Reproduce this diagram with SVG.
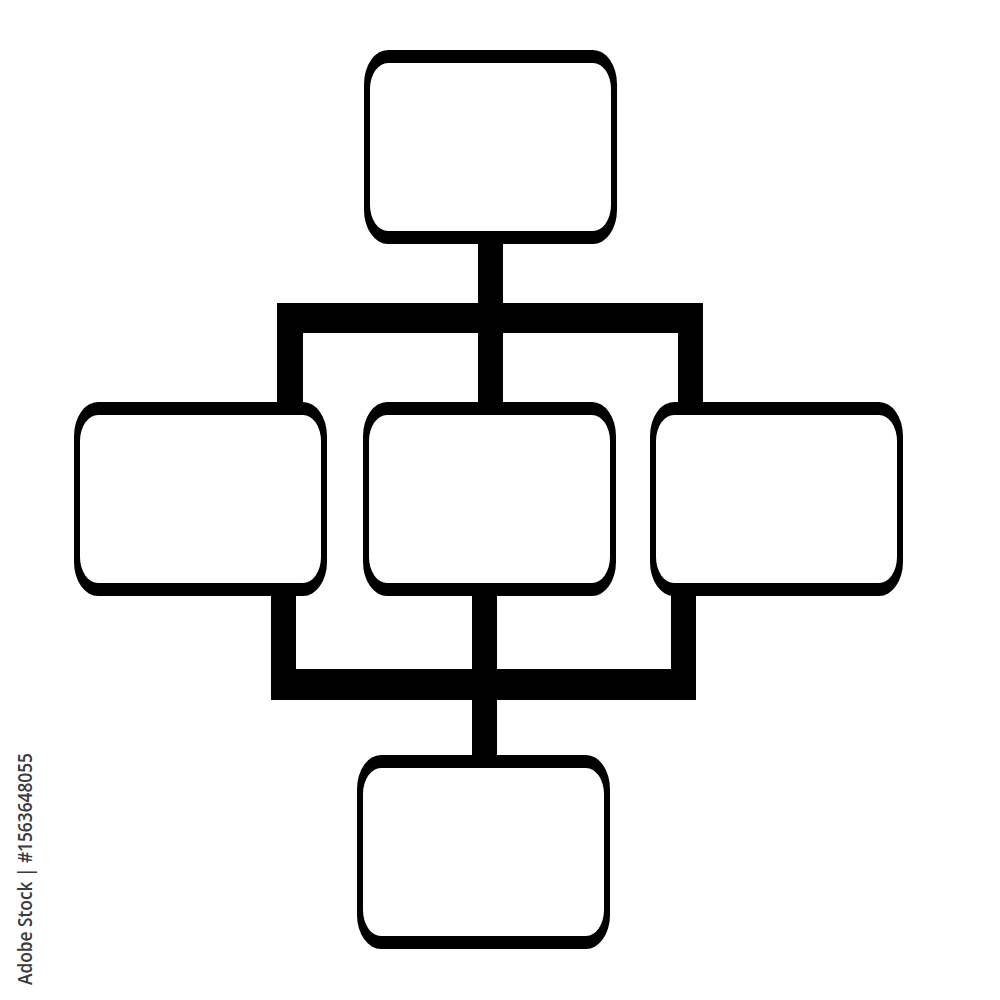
<svg xmlns="http://www.w3.org/2000/svg" width="1000" height="1000" viewBox="0 0 1000 1000">
  <style>
    .box { fill: #000; fill-rule: evenodd; }
    .conn { fill: #000; }
    .credit { font-family: "Open Sans", "Noto Sans", sans-serif; font-size: 20px; font-weight: 600; fill: #3a3a3a; }
  </style>
  <defs>
    <path id="boxShape" class="box" d="M24,0 H229 A24,34 0 0 1 253,34 V160 A24,34 0 0 1 229,194 H24 A24,34 0 0 1 0,160 V34 A24,34 0 0 1 24,0 Z M24,13 H229 A18,26 0 0 1 247,39 V155 A18,26 0 0 1 229,181 H24 A18,26 0 0 1 6,155 V39 A18,26 0 0 1 24,13 Z"/>
  </defs>
  <rect width="1000" height="1000" fill="#fff"/>
  <g id="connectors">
    <rect class="conn" x="478" y="242" width="25" height="162"/>
    <rect class="conn" x="277" y="303" width="426" height="30"/>
    <rect class="conn" x="277" y="303" width="26" height="101"/>
    <rect class="conn" x="678" y="303" width="25" height="101"/>
    <rect class="conn" x="271" y="592" width="25" height="108"/>
    <rect class="conn" x="671" y="592" width="25" height="108"/>
    <rect class="conn" x="271" y="669" width="425" height="31"/>
    <rect class="conn" x="472" y="592" width="25" height="165"/>
  </g>
  <g id="node-top"><use href="#boxShape" transform="translate(364,50)"/></g>
  <g id="node-left"><use href="#boxShape" transform="translate(74,402)"/></g>
  <g id="node-middle"><use href="#boxShape" transform="translate(363,402)"/></g>
  <g id="node-right"><use href="#boxShape" transform="translate(650,402)"/></g>
  <g id="node-bottom"><use href="#boxShape" transform="translate(357,755)"/></g>
  <text class="credit" transform="translate(32,985) rotate(-90)" textLength="232" lengthAdjust="spacingAndGlyphs">Adobe Stock | #1563648055</text>
</svg>
